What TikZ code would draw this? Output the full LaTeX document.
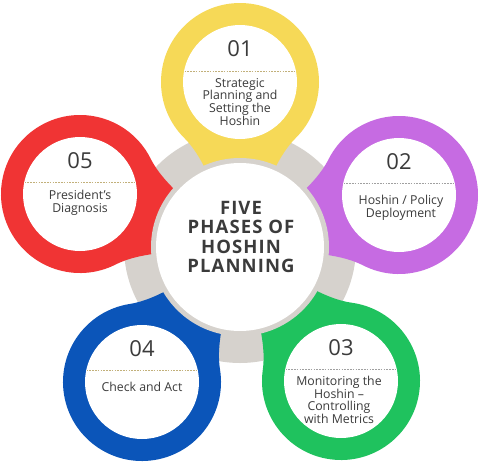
\documentclass[tikz,border=0pt]{standalone}
\usepackage{fontspec}
\setmainfont{Open Sans}
\newfontfamily\titlefont{Open Sans}[LetterSpace=6]
\usetikzlibrary{calc}
\definecolor{cY}{HTML}{F6D957}
\definecolor{cP}{HTML}{C66BE2}
\definecolor{cR}{HTML}{F03434}
\definecolor{cB}{HTML}{0B55B9}
\definecolor{cG}{HTML}{1FC25E}
\definecolor{cGray}{HTML}{D6D2CD}
\definecolor{txt}{HTML}{3B3B3B}
\definecolor{dTan}{HTML}{C2B07A}
\definecolor{dGr}{HTML}{A0A0A0}
\newcommand\petal[3]{%
  \fill[#3, shift={(#1)}, rotate=#2] (45:79) .. controls +(-45:16) and (80,38) .. (96,30)
    -- (166,0) -- (96,-30) .. controls (80,-38) and +(45:16) .. (-45:79)
    arc[start angle=-45, end angle=-315, radius=79] -- cycle;}
\begin{document}
\begin{tikzpicture}[x=1pt,y=1pt,
  num/.style={font=\fontsize{22}{24}\selectfont, text=txt, inner sep=0},
  lbl/.style={font=\fontsize{12.3}{12.6}\selectfont, text=txt, align=center, inner sep=0, anchor=north},
  sepline/.style={dash pattern=on 1.6pt off 1.2pt, line width=0.6pt},
  innerdisk/.style={circle, fill=white, inner sep=0, minimum size=114pt},
  hubdisk/.style={circle, fill=white, inner sep=0, minimum size=168pt},
  titlestyle/.style={font=\titlefont\bfseries\fontsize{18.5}{19.2}\selectfont, text=txt, align=center, inner sep=0}]
\fill[white] (0,0) rectangle (480,-464);
\useasboundingbox (0,0) rectangle (480,-464);
\coordinate (H) at (240,-247);
\coordinate (c1) at (240,-82);
\coordinate (c2) at (399,-195);
\coordinate (c3) at (341,-381);
\coordinate (c4) at (142,-382);
\coordinate (c5) at (80,-194);
% gray band
\fill[cGray] (H) circle[radius=116];
% petals
\petal{c1}{-90}{cY}
\petal{c2}{198.1}{cP}
\petal{c3}{127}{cG}
\petal{c4}{54}{cB}
\petal{c5}{-18.3}{cR}
% hub
\fill[cGray] (H) circle[radius=89];
\node[hubdisk] (hub) at (H) {};
\node[titlestyle] (title) at (241,-237) {FIVE\\PHASES OF\\HOSHIN\\PLANNING};
% inner disks
\node[innerdisk] (r1) at (c1) {};
\node[innerdisk] (r2) at (c2) {};
\node[innerdisk] (r3) at (c3) {};
\node[innerdisk] (r4) at (c4) {};
\node[innerdisk] (r5) at (c5) {};
% numbers
\node[num] (n1) at ($(c1)+(0,33)$) {01};
\node[num] (n2) at ($(c2)+(0,33)$) {02};
\node[num] (n3) at ($(c3)+(0,33)$) {03};
\node[num] (n4) at ($(c4)+(0,33)$) {04};
\node[num] (n5) at ($(c5)+(0,33)$) {05};
% separators
\draw[sepline, dTan] ($(c1)+(-55.5,11)$) -- ($(c1)+(55.5,11)$);
\draw[sepline, dGr] ($(c2)+(-55.5,12)$) -- ($(c2)+(55.5,12)$);
\draw[sepline, dGr] ($(c3)+(-55.5,12)$) -- ($(c3)+(55.5,12)$);
\draw[sepline, dTan] ($(c4)+(-55.5,12)$) -- ($(c4)+(55.5,12)$);
\draw[sepline, dTan] ($(c5)+(-55.5,12)$) -- ($(c5)+(55.5,12)$);
% labels
\node[lbl] (l1) at ($(c1)+(0,4)$) {Strategic\\Planning and\\Setting the\\Hoshin};
\node[lbl] (l2) at ($(c2)+(2,0)$) {Hoshin / Policy\\Deployment};
\node[lbl] (l3) at ($(c3)+(-2,5)$) {Monitoring the\\Hoshin --\\Controlling\\with Metrics};
\node[lbl] (l4) at ($(c4)+(0,0)$) {Check and Act};
\node[lbl] (l5) at ($(c5)+(0,4)$) {President's\\Diagnosis};
\end{tikzpicture}
\end{document}
